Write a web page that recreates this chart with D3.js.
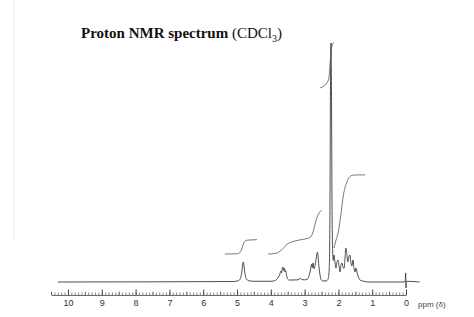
<!DOCTYPE html>
<meta charset="utf-8">
<script src="https://d3js.org/d3.v7.min.js"></script>
<style>
body { margin: 0; background: #fff; }
</style>
<div id="my_dataviz"></div>
<script>

// spectrum trace (chemical shift in ppm, relative intensity)
var tracePpm = [10.3, 5.1, 4.95, 4.9, 4.86, 4.83, 4.815, 4.80, 4.77, 4.73, 4.66, 4.5, 4.0,
  3.88, 3.80, 3.74, 3.70, 3.68, 3.66, 3.64, 3.62, 3.60, 3.58, 3.56, 3.53, 3.50, 3.45,
  3.2, 3.12, 3.08, 3.0, 2.92, 2.86, 2.82, 2.79, 2.77, 2.75, 2.72, 2.69, 2.66, 2.64, 2.62,
  2.60, 2.58, 2.55, 2.51, 2.45, 2.35, 2.3, 2.27, 2.25, 2.235, 2.22, 2.205, 2.19, 2.17,
  2.15, 2.13, 2.10, 2.07, 2.04, 2.01, 1.98, 1.95, 1.92, 1.89, 1.86, 1.83, 1.80, 1.78,
  1.75, 1.72, 1.69, 1.66, 1.63, 1.60, 1.57, 1.54, 1.51, 1.48, 1.44, 1.40, 1.36, 1.25,
  1.1, 0.05, 0.02, 0.01, 0.0, -0.01, -0.4];
var traceInt = [0, 0.2, 0.6, 1.5, 4, 7.5, 8.4, 7.5, 4, 1.5, 0.6, 0.3, 0.3,
  0.6, 1.5, 3.0, 4.6, 3.8, 5.6, 6.3, 4.8, 5.8, 4.2, 4.8, 2.6, 1.2, 0.8,
  0.9, 1.5, 1.0, 0.9, 1.2, 3.0, 5.5, 7.5, 6.0, 8.0, 5.5, 7.0, 9.5, 11.5, 12.5,
  10.5, 7.0, 3.5, 1.0, 0.4, 0.5, 1.5, 6, 30, 80, 100, 80, 35, 13,
  9, 11.3, 8.0, 5.8, 8.5, 9.2, 6.5, 4.2, 7.5, 7.9, 6.0, 5.8, 11, 14.2,
  11.5, 8.4, 10.5, 11.3, 8.0, 6.7, 9.2, 6.0, 4.2, 5.8, 3.5, 1.8, 0.8, 0.3,
  0, 0, 1.0, 3.8, -2.5, 0.3, 0];

// integral curves (ppm, height in the same units)
var int1Ppm = [5.36, 5.0, 4.92, 4.86, 4.82, 4.77, 4.70, 4.41];
var int1Val = [11.7, 11.8, 12.3, 13.8, 15.5, 17.0, 17.5, 17.7];
var int2Ppm = [4.08, 3.85, 3.67, 3.52, 3.37, 3.14, 2.84, 2.75, 2.66, 2.57, 2.49];
var int2Val = [11.7, 12.0, 13.5, 15.8, 16.8, 17.6, 18.6, 20.9, 25.9, 28.9, 30.1];
var int3Ppm = [2.54, 2.43, 2.34, 2.28, 2.25, 2.22, 2.19, 2.13];
var int3Val = [81.2, 82.0, 83.3, 85.4, 90.8, 96.2, 98.7, 100.4];
var int4Ppm = [2.13, 2.07, 2.01, 1.92, 1.86, 1.75, 1.60, 1.45, 1.21];
var int4Val = [14.2, 17.6, 20.5, 28.9, 35.6, 41.8, 44.6, 44.8, 44.8];

var majorTicks = [10, 9, 8, 7, 6, 5, 4, 3, 2, 1, 0];
var tickLabels = ["10", "9", "8", "7", "6", "5", "4", "3", "2", "1", "0"];

var width = 474, height = 317;

var svg = d3.select("#my_dataviz")
  .append("svg")
    .attr("width", width)
    .attr("height", height);

// faint scan edge on the left
svg.append("line")
  .attr("x1", 14).attr("x2", 14).attr("y1", 0).attr("y2", 240)
  .attr("stroke", "#f2f2f2").attr("stroke-width", 1.5);

var x = d3.scaleLinear().domain([10, 0]).range([68, 406]);
var y = d3.scaleLinear().domain([0, 100]).range([282, 43]);

// title
var title = svg.append("text")
  .attr("x", 81).attr("y", 38)
  .attr("font-family", "Liberation Serif, Times New Roman, serif")
  .attr("font-size", "15px")
  .attr("fill", "#111");
title.append("tspan").attr("font-weight", "bold").text("Proton NMR spectrum");
title.append("tspan").text(" (CDCl");
title.append("tspan").attr("font-size", "10px").attr("dy", 4).text("3");
title.append("tspan").attr("dy", -4).text(")");

// spectrum
var traceData = tracePpm.map(function(p, i) { return {p: p, v: traceInt[i]}; });
var line = d3.line()
  .x(function(d) { return x(d.p); })
  .y(function(d) { return y(d.v); })
  .curve(d3.curveMonotoneX);

svg.append("path")
  .datum(traceData)
  .attr("fill", "none")
  .attr("stroke", "#3a3a3a")
  .attr("stroke-width", 0.9)
  .attr("d", line);

// integrals
[[int1Ppm, int1Val], [int2Ppm, int2Val], [int3Ppm, int3Val], [int4Ppm, int4Val]].forEach(function(c) {
  var data = c[0].map(function(p, i) { return {p: p, v: c[1][i]}; });
  svg.append("path")
    .datum(data)
    .attr("fill", "none")
    .attr("stroke", "#555")
    .attr("stroke-width", 0.8)
    .attr("d", line);
});

// ppm axis: ticks point up from the line
var axisY = 295;
var minor = d3.range(0, 106).map(function(i) { return i / 10; });
var half = d3.range(0, 11).map(function(i) { return i + 0.5; });

svg.append("g")
  .attr("transform", "translate(0," + axisY + ")")
  .call(d3.axisTop(x.copy().domain([10.5, 0]).range([x(10.5), 406]))
    .tickValues(minor).tickSize(2.5).tickSizeOuter(0).tickFormat(""))
  .call(function(g) {
    g.select(".domain").attr("stroke", "#444").attr("stroke-width", 0.8);
    g.selectAll(".tick line").attr("stroke", "#555").attr("stroke-width", 0.7);
  });

svg.append("g")
  .attr("transform", "translate(0," + axisY + ")")
  .call(d3.axisTop(x).tickValues(half.filter(function(d) { return d < 10.6; }))
    .tickSize(3.5).tickSizeOuter(0).tickFormat(""))
  .call(function(g) {
    g.select(".domain").remove();
    g.selectAll(".tick line").attr("stroke", "#555").attr("stroke-width", 0.7);
  });

svg.append("g")
  .attr("transform", "translate(0," + axisY + ")")
  .call(d3.axisTop(x).tickValues(majorTicks).tickSize(5.5).tickSizeOuter(0).tickFormat(""))
  .call(function(g) {
    g.select(".domain").remove();
    g.selectAll(".tick line").attr("stroke", "#333").attr("stroke-width", 0.9);
  });

svg.append("g")
  .attr("transform", "translate(0," + axisY + ")")
  .call(d3.axisBottom(x).tickValues(majorTicks).tickSize(0)
    .tickFormat(function(d, i) { return tickLabels[i]; }))
  .call(function(g) {
    g.select(".domain").remove();
    g.selectAll(".tick text")
      .attr("dy", "0.9em")
      .attr("font-family", "Liberation Sans, Arial, sans-serif")
      .attr("font-size", "9px")
      .attr("fill", "#333");
  });

svg.append("text")
  .attr("x", 418).attr("y", 307)
  .attr("font-family", "Liberation Sans, Arial, sans-serif")
  .attr("font-size", "8px")
  .attr("fill", "#444")
  .text("ppm (δ)");

</script>
